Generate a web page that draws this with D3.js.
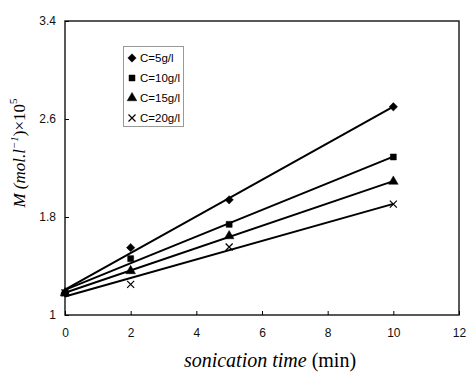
<!DOCTYPE html>
<html lang="en">
<head>
    <meta charset="UTF-8">
    <title>M vs sonication time</title>
    <script src="https://cdn.jsdelivr.net/npm/d3@7"></script>
    <style>
        body { margin: 0; background: #fff; }
        text { font-family: 'Liberation Sans', Arial, sans-serif; }
        .serif { font-family: 'Liberation Serif', 'Times New Roman', serif; }
    </style>
</head>
<body>
<script>
    const times = [0, 2, 5, 10]
    const seriesNames = ['C=5g/l', 'C=10g/l', 'C=15g/l', 'C=20g/l']
    const c5 = [1.18, 1.55, 1.94, 2.70]
    const c10 = [1.18, 1.46, 1.74, 2.29]
    const c15 = [1.18, 1.36, 1.645, 2.09]
    const c20 = [1.18, 1.25, 1.555, 1.905]
    const xTicks = [0, 2, 4, 6, 8, 10, 12]
    const yTicks = [1, 1.8, 2.6, 3.4]
    const symbols = ['diamond', 'square', 'triangle', 'cross']

    const [width, height] = [474, 376]
    const plot = { left: 65, right: 459, top: 21, bottom: 315 }

    const svg = d3.select('body').append('svg')
        .attr('width', width)
        .attr('height', height)

    const x = d3.scaleLinear().domain([0, 12]).range([plot.left, plot.right])
    const y = d3.scaleLinear().domain([1, 3.4]).range([plot.bottom, plot.top])

    // frame
    svg.append('rect')
        .attr('x', plot.left).attr('y', plot.top)
        .attr('width', plot.right - plot.left).attr('height', plot.bottom - plot.top)
        .attr('fill', 'none').attr('stroke', '#222').attr('stroke-width', 1.5)

    // axes, ticks pointing inside
    const xAxis = d3.axisBottom(x).tickValues(xTicks).tickSize(-4).tickPadding(13).tickFormat(d3.format('d'))
    svg.append('g').attr('transform', `translate(0, ${plot.bottom})`).call(xAxis)
        .call(g => g.select('.domain').remove())
        .call(g => g.selectAll('text').attr('font-size', 12).attr('fill', '#111'))

    const yAxis = d3.axisLeft(y).tickValues(yTicks).tickSize(-4).tickPadding(9).tickFormat(d => d === 1 ? '1' : d3.format('.1f')(d))
    svg.append('g').attr('transform', `translate(${plot.left}, 0)`).call(yAxis)
        .call(g => g.select('.domain').remove())
        .call(g => g.selectAll('text').attr('font-size', 12).attr('fill', '#111'))

    // least-squares fit of each series
    const fit = vals => {
        const mx = d3.mean(times), my = d3.mean(vals)
        const sxy = d3.sum(times, (t, i) => (t - mx) * (vals[i] - my))
        const sxx = d3.sum(times, t => (t - mx) ** 2)
        const b = sxy / sxx
        return t => my + b * (t - mx)
    }

    const symbolPath = (kind) => {
        if (kind === 'diamond') return 'M0,-4.2L4.2,0L0,4.2L-4.2,0Z'
        if (kind === 'square') return d3.symbol(d3.symbolSquare, 36)()
        if (kind === 'triangle') return d3.symbol(d3.symbolTriangle, 40)()
        return 'M-3.5,-3.5L3.5,3.5M-3.5,3.5L3.5,-3.5'
    }

    const allSeries = [c5, c10, c15, c20]
    allSeries.forEach((vals, i) => {
        const f = fit(vals)
        const xEnd = d3.max(times)
        svg.append('line')
            .attr('x1', x(0)).attr('y1', y(f(0)))
            .attr('x2', x(xEnd)).attr('y2', y(f(xEnd)))
            .attr('stroke', '#000').attr('stroke-width', 2)
        svg.append('g').selectAll('path').data(times).join('path')
            .attr('transform', (t, j) => `translate(${x(t)}, ${y(vals[j])})`)
            .attr('d', symbolPath(symbols[i]))
            .attr('fill', symbols[i] === 'cross' ? 'none' : '#000')
            .attr('stroke', '#000')
            .attr('stroke-width', symbols[i] === 'cross' ? 1.2 : 0.5)
    })

    // legend
    const legend = svg.append('g')
    legend.append('rect')
        .attr('x', 123.5).attr('y', 46.5).attr('width', 60).attr('height', 80)
        .attr('fill', '#fff').attr('stroke', '#999').attr('stroke-width', 1)
    seriesNames.forEach((name, i) => {
        const yy = 58 + i * 20
        legend.append('path')
            .attr('transform', `translate(132, ${yy})`)
            .attr('d', symbolPath(symbols[i]))
            .attr('fill', symbols[i] === 'cross' ? 'none' : '#000')
            .attr('stroke', '#000')
            .attr('stroke-width', symbols[i] === 'cross' ? 1.2 : 0.5)
        legend.append('text')
            .attr('x', 140).attr('y', yy + 4)
            .attr('font-size', 11.5)
            .text(name)
    })

    // axis titles
    const xTitle = svg.append('text').attr('class', 'serif')
        .attr('x', 270).attr('y', 367)
        .attr('text-anchor', 'middle').attr('font-size', 20)
    xTitle.append('tspan').attr('font-style', 'italic').text('sonication time')
    xTitle.append('tspan').text(' (min)')

    const yTitle = svg.append('text').attr('class', 'serif')
        .attr('transform', 'translate(25, 153) rotate(-90)')
        .attr('text-anchor', 'middle').attr('font-size', 17)
    yTitle.append('tspan').attr('font-style', 'italic').text('M (mol.l')
    yTitle.append('tspan').attr('font-style', 'italic').attr('font-size', 11).attr('dy', -7).text('−1')
    yTitle.append('tspan').attr('dy', 7).text(')×10')
    yTitle.append('tspan').attr('font-size', 11).attr('dy', -8).text('5')
</script>
</body>
</html>
